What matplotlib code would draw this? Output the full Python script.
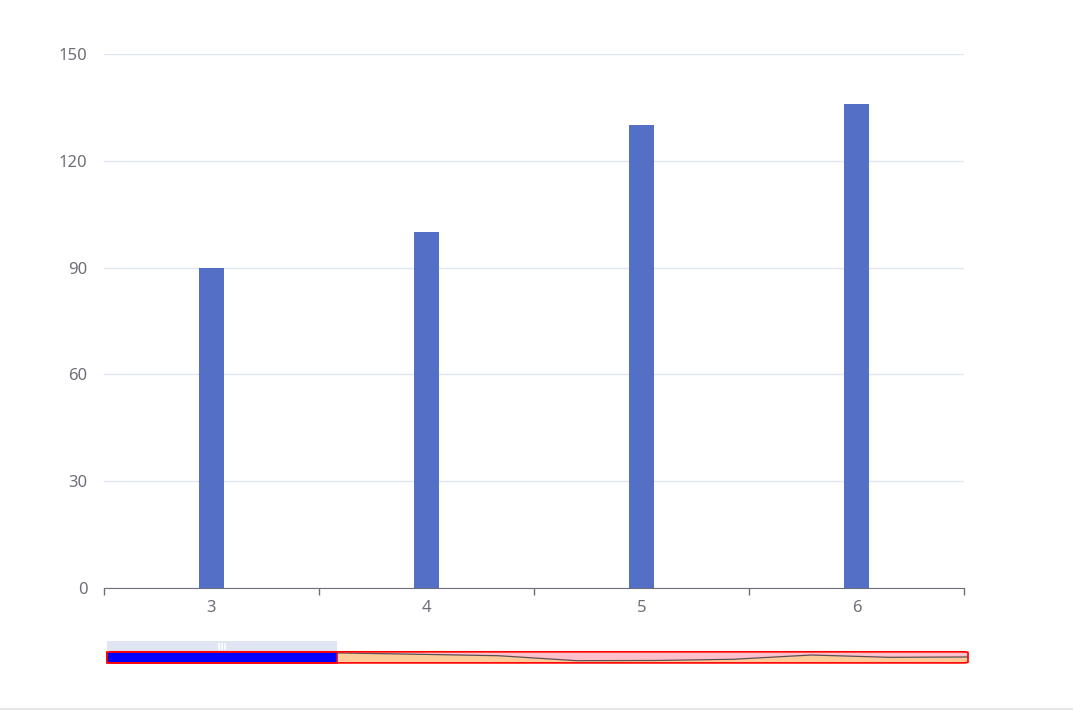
import numpy as np
import matplotlib.pyplot as plt
from matplotlib.patches import FancyBboxPatch, Rectangle

# full series (the slider shows all of it, the chart shows the zoomed window)
categories = ["3", "4", "5", "6", "7", "8", "9", "10", "11", "12", "13", "14"]
values = [90, 100, 130, 136, 117, 97, 26, 29, 46, 107, 74, 79]
zoom_start, zoom_end = 0.0, 26.7  # percent, like dataZoom start/end
visible = 4

y_ticks = [0, 30, 60, 90, 120, 150]

W, H = 1073, 710
fig = plt.figure(figsize=(W / 100, H / 100), dpi=100)
plt.rcParams["font.family"] = ["Noto Sans", "DejaVu Sans"]

def px_axes(x0, y0, x1, y1):
    return fig.add_axes([x0 / W, 1 - y1 / H, (x1 - x0) / W, (y1 - y0) / H])

ax = px_axes(104, 54, 964, 588)
xs = np.arange(visible)
ax.bar(xs, values[:visible], width=0.112, color="#5470c6", zorder=3)
ax.set_xlim(-0.5, visible - 0.5)
ax.set_ylim(0, 150)
ax.set_yticks(y_ticks)
ax.set_xticks(xs)
ax.set_xticklabels(categories[:visible])
ax.set_xticks(np.arange(visible + 1) - 0.5, minor=True)
for s in ["top", "right", "left"]:
    ax.spines[s].set_visible(False)
ax.spines["bottom"].set_color("#6e7079")
ax.grid(axis="y", color="#e0e6f1", linewidth=1, zorder=0)
ax.tick_params(axis="y", length=0, pad=12, labelsize=12, labelcolor="#6e7079")
ax.tick_params(axis="x", which="major", length=0, pad=9, labelsize=12, labelcolor="#6e7079")
ax.tick_params(axis="x", which="minor", length=5, color="#6e7079", width=1)

# data zoom slider, drawn in its own axes spanning the slider track
sl = px_axes(107, 638, 968, 666)
n = len(values)
sl.set_xlim(0, n - 1)
scale = 150 / 10.5
sl.set_ylim(-(666 - 662.5) * scale, (662.5 - 638) * scale)
sl.axis("off")
x_all = np.arange(n)
x_end = (n - 1) * zoom_end / 100
x_beg = (n - 1) * zoom_start / 100
top_v, bot_v = (662.5 - 651.8) * scale, -0.4 * scale
box = dict(boxstyle="round,pad=0,rounding_size=0.06", mutation_aspect=scale * 12.8,
           clip_on=False)
sl.add_patch(FancyBboxPatch((0, bot_v), n - 1, top_v - bot_v,
                            facecolor="#ffcc99", edgecolor="none", zorder=1, **box))
sl.fill_between(x_all, values, top_v, color="#ffc0cb", zorder=2, linewidth=0)
sl.plot(x_all, values, color="#333333", linewidth=0.9, alpha=0.8, zorder=3)
sl.add_patch(Rectangle((x_beg, bot_v), x_end - x_beg, top_v - bot_v,
                       facecolor="#0000ff", edgecolor="#dd0033", linewidth=1.2,
                       zorder=4, clip_on=False))
sl.add_patch(FancyBboxPatch((0, bot_v), n - 1, top_v - bot_v,
                            facecolor="none", edgecolor="#ff0000", linewidth=1.2,
                            zorder=5, **box))
# move handle bar above the selected window
sl.add_patch(Rectangle((x_beg, top_v), x_end - x_beg, 11 * scale,
                       facecolor="#dfe5f2", edgecolor="none", zorder=4))
mid = (x_beg + x_end) / 2
for d in (-0.04, 0, 0.04):
    sl.plot([mid + d, mid + d], [top_v + 3 * scale, top_v + 7.5 * scale],
            color="white", linewidth=1.2, zorder=5)

# page bottom line
fig.add_artist(plt.Line2D([0, 1], [1 - 708.5 / H] * 2, color="#e6e6e6", linewidth=1.5))

fig.savefig("out.png", dpi=100)
